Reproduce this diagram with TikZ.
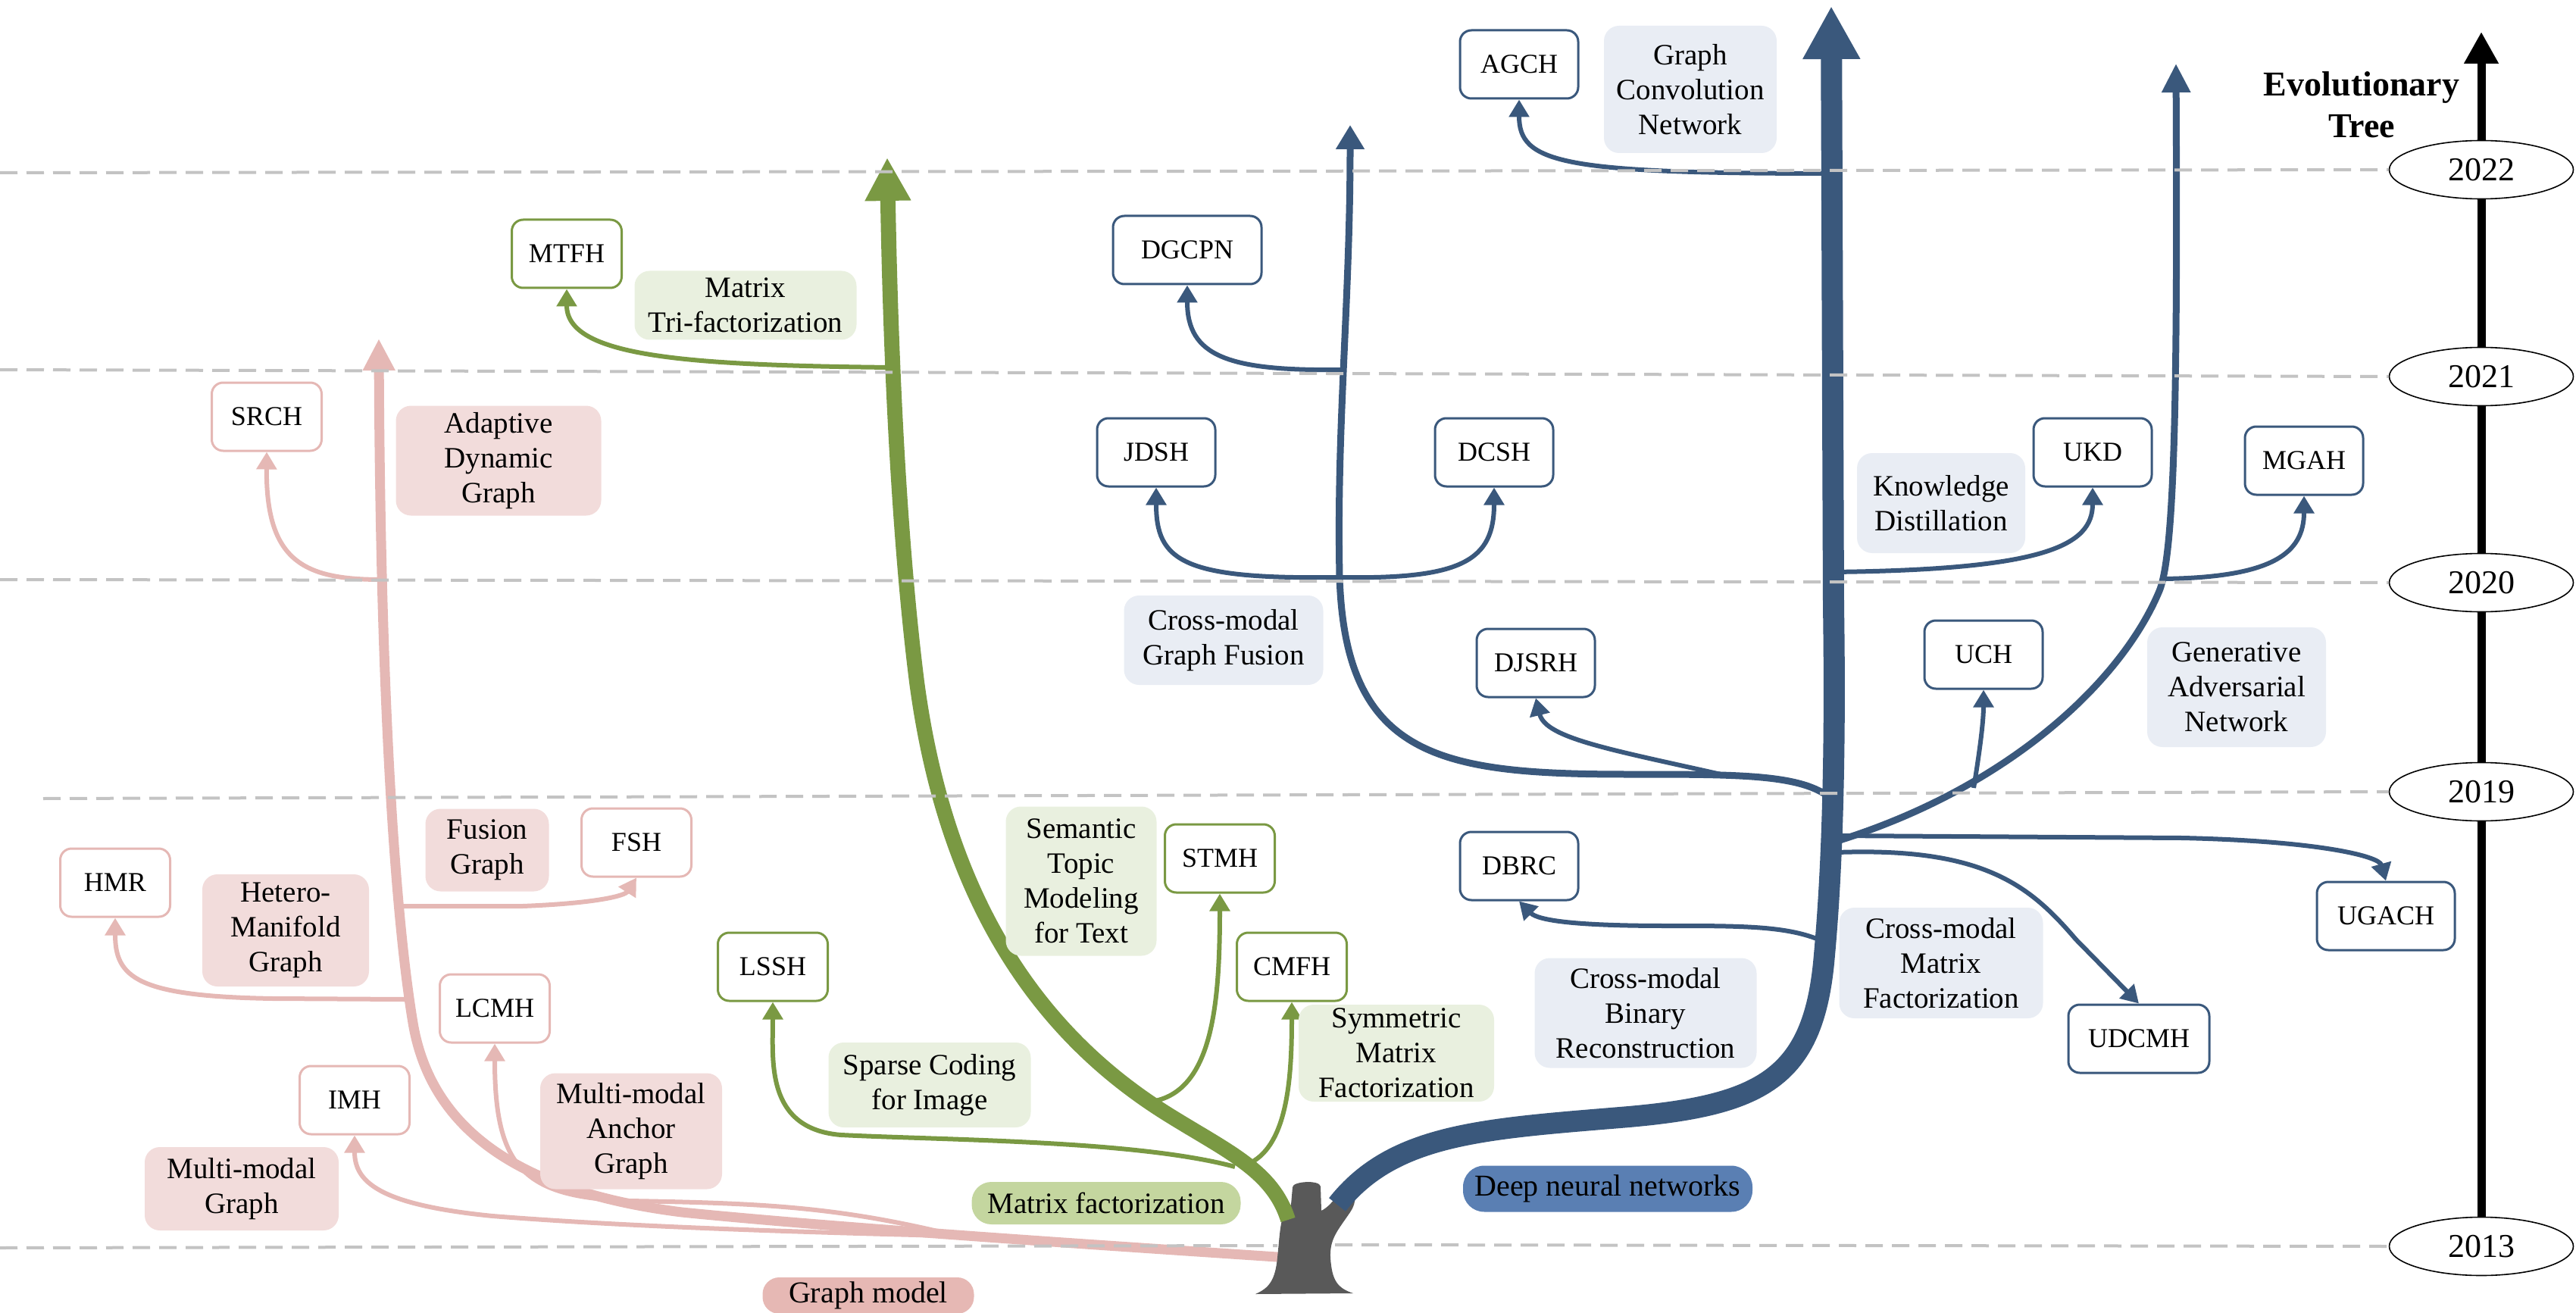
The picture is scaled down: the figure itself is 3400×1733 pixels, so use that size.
\documentclass[tikz,border=0pt]{standalone}
\usepackage{fontspec}
\setmainfont{Liberation Serif}
\usetikzlibrary{arrows.meta,shapes.geometric}
\definecolor{dnnblue}{HTML}{3A587C}
\definecolor{mfgreen}{HTML}{7A9943}
\definecolor{gmpink}{HTML}{E5B8B5}
\definecolor{bluelight}{HTML}{E9EDF4}
\definecolor{greenlight}{HTML}{E9F0DF}
\definecolor{pinklight}{HTML}{F2DCDB}
\definecolor{dnnfill}{HTML}{5A7FB3}
\definecolor{mffill}{HTML}{C4D69F}
\definecolor{gmfill}{HTML}{E6B8B4}
\definecolor{stumpgray}{HTML}{595959}
\definecolor{dashgray}{HTML}{C3C3C3}
\pgfdeclarelayer{bg}
\pgfsetlayers{bg,main}
\tikzset{
 box/.style={rounded corners=7.5pt, line width=1.5pt, fill=white, minimum height=45pt, inner sep=0pt, font=\fontsize{18}{21}\selectfont},
 bbox/.style={box, draw=dnnblue, minimum width=78pt},
 gbox/.style={box, draw=mfgreen, minimum width=72.5pt},
 pbox/.style={box, draw=gmpink, minimum width=72.5pt},
 lab/.style={rounded corners=10pt, align=center, inner sep=0pt, font=\fontsize{19.5}{23}\selectfont},
 blab/.style={lab, fill=bluelight},
 glab/.style={lab, fill=greenlight},
 plab/.style={lab, fill=pinklight},
 sz/.style 2 args={minimum width=#1, minimum height=#2},
 conn/.style={line width=3pt, -{Triangle[length=11.5pt,width=13pt]}},
 bconn/.style={conn, draw=dnnblue},
 gconn/.style={conn, draw=mfgreen},
 pconn/.style={conn, draw=gmpink},
 year/.style={ellipse, draw, line width=0.8pt, fill=white, minimum width=121.5pt, minimum height=38.5pt, inner sep=0pt, font=\fontsize{22}{26}\selectfont},
 dashln/.style={draw=dashgray, line width=2pt, dash pattern=on 11.5pt off 6pt},
}
\begin{document}
\begin{tikzpicture}[x=0.5pt,y=-0.5pt]
\useasboundingbox (0,0) rectangle (3400,1733);

% ---------- years ----------
\node[year] (y2022) at (3275,224) {2022};
\node[year] (y2021) at (3275,497) {2021};
\node[year] (y2020) at (3275,769) {2020};
\node[year] (y2019) at (3275,1045) {2019};
\node[year] (y2013) at (3275,1645) {2013};
\node[font=\fontsize{23}{27.5}\selectfont\bfseries, align=center] (title) at (3117,138) {Evolutionary\\Tree};

% ---------- blue boxes ----------
\node[bbox] (AGCH) at (2005,85) {AGCH};
\node[bbox, minimum width=98pt] (DGCPN) at (1567,330) {DGCPN};
\node[bbox] (JDSH) at (1526,597) {JDSH};
\node[bbox] (DCSH) at (1972,597) {DCSH};
\node[bbox] (UKD) at (2762,597) {UKD};
\node[bbox] (MGAH) at (3041,608) {MGAH};
\node[bbox] (UCH) at (2618,864) {UCH};
\node[bbox] (DJSRH) at (2027,875) {DJSRH};
\node[bbox] (DBRC) at (2005,1143) {DBRC};
\node[bbox, minimum width=91pt] (UGACH) at (3149,1209) {UGACH};
\node[bbox, minimum width=93pt] (UDCMH) at (2823,1371) {UDCMH};

% ---------- green boxes ----------
\node[gbox] (MTFH) at (748,335) {MTFH};
\node[gbox] (STMH) at (1610,1133) {STMH};
\node[gbox] (LSSH) at (1020,1276) {LSSH};
\node[gbox] (CMFH) at (1705,1276) {CMFH};

% ---------- pink boxes ----------
\node[pbox] (SRCH) at (352,550) {SRCH};
\node[pbox] (HMR) at (152,1165) {HMR};
\node[pbox] (FSH) at (840,1112) {FSH};
\node[pbox] (LCMH) at (653,1331) {LCMH};
\node[pbox] (IMH) at (468,1452) {IMH};

% ---------- labels ----------
\node[blab, sz={114pt}{84pt}] (lGCN) at (2231,118) {Graph\\Convolution\\Network};
\node[blab, sz={131.5pt}{59pt}] (lCMGF) at (1615,845) {Cross-modal\\Graph Fusion};
\node[blab, sz={111pt}{66pt}] (lKD) at (2562,664) {Knowledge\\Distillation};
\node[blab, sz={118pt}{79pt}] (lGAN) at (2952,907) {Generative\\Adversarial\\Network};
\node[blab, sz={134.5pt}{73pt}] (lCMMF) at (2562,1271) {Cross-modal\\Matrix\\Factorization};
\node[blab, sz={146.5pt}{72.5pt}] (lCMBR) at (2172,1337) {Cross-modal\\Binary\\Reconstruction};
\node[glab, sz={146.5pt}{45.5pt}] (lMTF) at (984,403) {Matrix\\Tri-factorization};
\node[glab, sz={99.5pt}{98.5pt}] (lSTM) at (1427,1163) {Semantic\\Topic\\Modeling\\for Text};
\node[glab, sz={133.5pt}{56pt}] (lSCI) at (1227,1432) {Sparse Coding\\for Image};
\node[glab, sz={129pt}{64pt}] (lSMF) at (1843,1390) {Symmetric\\Matrix\\Factorization};
\node[plab, sz={135.5pt}{72.5pt}] (lADG) at (658,608) {Adaptive\\Dynamic\\Graph};
\node[plab, sz={81.5pt}{54.5pt}] (lFG) at (643,1122) {Fusion\\Graph};
\node[plab, sz={110pt}{74pt}] (lHMG) at (377,1228) {Hetero-\\Manifold\\Graph};
\node[plab, sz={120pt}{76.5pt}] (lMAG) at (833,1493) {Multi-modal\\Anchor\\Graph};
\node[plab, sz={128pt}{55pt}] (lMMG) at (319,1569) {Multi-modal\\Graph};

\node[lab, fill=dnnfill, rounded corners=14pt, sz={191pt}{30.5pt}, font=\fontsize{20}{24}\selectfont] (DNN) at (2122,1569) {Deep neural networks};
\node[lab, fill=mffill, rounded corners=13pt, sz={177.5pt}{28pt}] (MF) at (1460,1588) {Matrix factorization};
\node[lab, fill=gmfill, rounded corners=11pt, sz={139.5pt}{24pt}, font=\fontsize{20}{24}\selectfont] (GM) at (1146,1710) {Graph model};

\begin{pgfonlayer}{bg}
% ---------- pink ----------
\draw[pconn] (503,765) .. controls (400,765) and (351,740) .. (SRCH.south);
\draw[pconn] (534,1319) -- (360,1318) .. controls (180,1315) and (152,1290) .. (HMR.south);
\draw[pconn] (524,1196) -- (690,1196) .. controls (790,1192) and (825,1182) .. (FSH.south);
\draw[pconn] (1250,1628) .. controls (1100,1592) and (1000,1588) .. (830,1585) .. controls (690,1580) and (653,1540) .. (LCMH.south);
\draw[pconn] (1250,1631) .. controls (1000,1625) and (800,1617) .. (650,1605) .. controls (500,1590) and (468,1560) .. (IMH.south);
\draw[draw=gmpink, line width=6.5pt, -{Triangle[length=21pt,width=20pt]}]
  (1700,1660) .. controls (1400,1640) and (1100,1620) .. (900,1600)
  .. controls (700,1575) and (570,1500) .. (545,1350)
  .. controls (520,1200) and (502,900) .. (500,447);

% ---------- stump ----------
\fill[stumpgray] (1706,1567) .. controls (1706,1559) and (1742,1557) .. (1743,1566)
  -- (1744,1598) .. controls (1760,1590) and (1765,1572) .. (1778,1571)
  .. controls (1790,1571) and (1792,1585) .. (1782,1600)
  .. controls (1765,1625) and (1755,1635) .. (1756,1660)
  .. controls (1758,1690) and (1765,1700) .. (1786,1707)
  -- (1657,1708) .. controls (1675,1700) and (1683,1690) .. (1686,1660)
  .. controls (1690,1620) and (1690,1600) .. (1704,1590) -- cycle;

% ---------- green ----------
\draw[gconn] (1630,1540) .. controls (1500,1505) and (1250,1505) .. (1110,1498) .. controls (1010,1490) and (1020,1400) .. (LSSH.south);
\draw[gconn] (1505,1455) .. controls (1600,1455) and (1610,1330) .. (STMH.south);
\draw[gconn] (1650,1535) .. controls (1700,1510) and (1705,1420) .. (CMFH.south);
\draw[gconn] (1175,485) .. controls (900,482) and (748,470) .. (MTFH.south);
\draw[draw=mfgreen, line width=10pt, -{Triangle[length=28.5pt,width=28.5pt]}]
  (1700,1610) .. controls (1680,1545) and (1620,1520) .. (1540,1470)
  .. controls (1380,1370) and (1250,1200) .. (1210,900)
  .. controls (1185,700) and (1175,450) .. (1171,208);

% ---------- blue ----------
\draw[bconn] (2418,229) .. controls (2060,229) and (2005,215) .. (AGCH.south);
\draw[bconn] (1772,488) .. controls (1620,490) and (1567,470) .. (DGCPN.south);
\draw[bconn] (1766,762) .. controls (1560,765) and (1526,740) .. (JDSH.south);
\draw[bconn] (1766,762) .. controls (1930,765) and (1972,740) .. (DCSH.south);
\draw[bconn] (2280,1024) .. controls (2130,990) and (2040,975) .. (DJSRH.south);
\draw[bconn] (2418,755) .. controls (2700,752) and (2762,720) .. (UKD.south);
\draw[bconn] (2856,764) .. controls (3000,762) and (3041,730) .. (MGAH.south);
\draw[bconn] (2605,1040) .. controls (2614,985) and (2618,950) .. (UCH.south);
\draw[bconn] (2425,1103) -- (2880,1106) .. controls (3060,1110) and (3140,1130) .. (UGACH.north);
\draw[bconn] (2425,1125) .. controls (2620,1118) and (2680,1170) .. (2740,1240) -- (UDCMH.north);
\draw[bconn] (2405,1242) .. controls (2360,1222) and (2300,1222) .. (2200,1222) .. controls (2080,1222) and (2030,1215) .. (DBRC.south);

\draw[draw=dnnblue, line width=4.5pt, -{Triangle[length=19pt,width=18pt]}]
  (2425,1110) .. controls (2650,1040) and (2800,900) .. (2850,780)
  .. controls (2871,730) and (2874,500) .. (2872,84);
\draw[draw=dnnblue, line width=4.5pt, -{Triangle[length=16pt,width=18pt]}]
  (2418,1055) .. controls (2380,1022) and (2300,1022) .. (2150,1022)
  .. controls (1900,1022) and (1775,1000) .. (1768,760)
  .. controls (1764,560) and (1782,400) .. (1782,165);
\draw[draw=dnnblue, line width=14pt, -{Triangle[length=35pt,width=35.5pt]}]
  (1765,1590) .. controls (1840,1495) and (1960,1490) .. (2150,1474)
  .. controls (2330,1458) and (2395,1420) .. (2408,1260)
  .. controls (2418,1150) and (2423,1000) .. (2420,800) -- (2417,8);

% ---------- dashed year lines ----------
\draw[dashln] (0,228) -- (y2022.west);
\draw[dashln] (0,488) -- (y2021.west);
\draw[dashln] (0,765) -- (y2020.west);
\draw[dashln] (57,1054) -- (y2019.west);
\draw[dashln] (0,1647) -- (1686,1644);
\draw[dashln] (1762,1643) -- (y2013.west);

% ---------- timeline ----------
\draw[line width=5.5pt, -{Triangle[length=21pt,width=21.5pt]}] (y2013.center) -- (3275,42);
\end{pgfonlayer}
\end{tikzpicture}
\end{document}
